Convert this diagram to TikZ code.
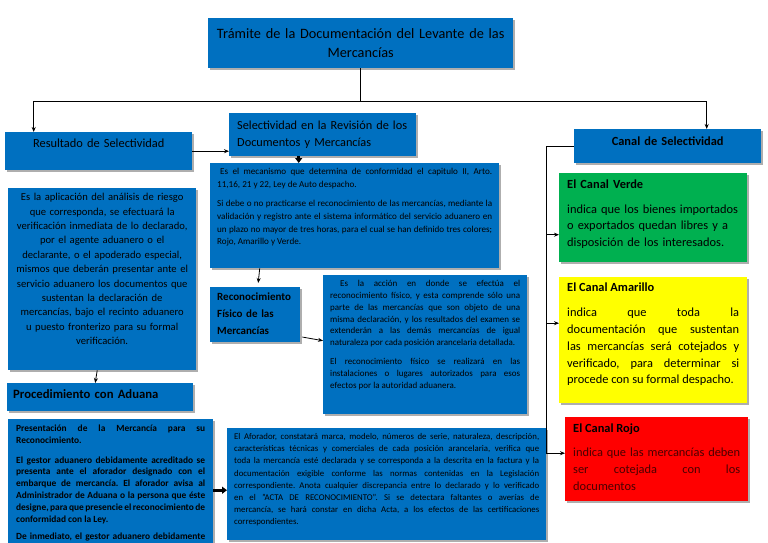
\documentclass[tikz,border=0pt]{standalone}
\usepackage{fontspec}
\setmainfont{Carlito}
\usepackage{xcolor}
\definecolor{azulcaja}{HTML}{0070C0}
\definecolor{canalverde}{HTML}{00B050}
\definecolor{canalamarillo}{HTML}{FFFF00}
\definecolor{canalrojo}{HTML}{FF0000}
\definecolor{textorojo}{HTML}{4A0000}
\usepackage{tikz}
\usetikzlibrary{arrows.meta, shadows}
\hyphenpenalty=10000
\exhyphenpenalty=10000
\tolerance=9999
\emergencystretch=20pt
\frenchspacing

\begin{document}
\begin{tikzpicture}[
  x=1pt, y=-1pt,
  caja/.style={
    fill=azulcaja, anchor=north west, inner ysep=0pt,
    drop shadow={shadow xshift=1.5pt, shadow yshift=-2pt, opacity=0.45, fill=black!70}
  },
  detalle/.style={caja, align=justify},
  linea/.style={line width=0.8pt, black},
  flecha/.style={-{Stealth[length=5pt, width=4pt]}, line width=0.8pt, black},
  flechagruesa/.style={-{Triangle[length=5pt, width=7pt]}, line width=2.6pt, black}
]

\useasboundingbox (0,0) rectangle (768,543);
\clip (0,0) rectangle (768,543);

% ---- Título ----
\node[caja, text width=293pt, inner xsep=6pt, minimum height=50pt, align=center,
  font=\fontsize{14.3}{19}\selectfont] (titulo) at (208,18)
  {Trámite de la Documentación del Levante de las\\ Mercancías};

% ---- Columna izquierda ----
\node[caja, text width=175pt, inner xsep=6pt, text height=15pt, text depth=23pt,
  align=center, font=\fontsize{12.4}{14}\selectfont] (resultado) at (5,132)
  {Resultado de Selectividad};

\node[caja, text width=178pt, inner xsep=5pt, text height=12.5pt, text depth=169.5pt,
  align=center, font=\fontsize{10.6}{14.4}\selectfont] (resdesc) at (8,188) {
  Es la aplicación del análisis de riesgo\\
  que corresponda, se efectuará la\\
  verificación inmediata de lo declarado,\\
  por el agente aduanero o el\\
  declarante, o el apoderado especial,\\
  mismos que deberán presentar ante el\\
  servicio aduanero los documentos que\\
  sustentan la declaración de\\
  mercancías, bajo el recinto aduanero\\
  u puesto fronterizo para su formal\\
  verificación.
};

\node[caja, text width=174pt, inner xsep=6pt, text height=15.5pt, text depth=12.5pt,
  align=left, font=\bfseries\fontsize{12.7}{14}\selectfont] (procedimiento) at (7,383)
  {Procedimiento con Aduana};

\node[detalle, text width=189pt, inner xsep=8pt, text height=12pt, text depth=130pt,
  font=\bfseries\fontsize{9.4}{11.9}\selectfont] (presentacion) at (8,419) {
  Presentación de la Mercancía para su\linebreak
  Reconocimiento.\\[8pt]
  El gestor aduanero debidamente acreditado se\linebreak
  presenta ante el aforador designado con el\linebreak
  embarque de mercancía. El aforador avisa al\linebreak
  Administrador de Aduana o la persona que éste\linebreak
  designe, para que presencie el reconocimiento de\linebreak
  conformidad con la Ley.\\[5.5pt]
  De inmediato, el gestor aduanero debidamente\linebreak\mbox{}
};

% ---- Columna central ----
\node[caja, text width=171pt, inner xsep=8pt, text height=16pt, text depth=27pt,
  align=left, font=\fontsize{12.3}{17}\selectfont] (selrev) at (229,113)
  {Selectividad en la Revisión de los\\ Documentos y Mercancías};

\node[detalle, text width=275pt, inner xsep=7pt, text height=11.5pt, text depth=93.5pt,
  font=\fontsize{9.1}{12.7}\selectfont] (mecanismo) at (210,163) {
  \hspace*{3pt}Es el mecanismo que determina de conformidad el capitulo II, Arto.\linebreak
  11,16, 21 y 22, Ley de Auto despacho.\\[6.5pt]
  Si debe o no practicarse el reconocimiento de las mercancías, mediante la\linebreak
  validación y registro ante el sistema informático del servicio aduanero en\linebreak
  un plazo no mayor de tres horas, para el cual se han definido tres colores;\linebreak
  Rojo, Amarillo y Verde.
};

\node[caja, text width=76pt, inner xsep=7pt, text height=13.5pt, text depth=41.5pt,
  align=left, font=\bfseries\fontsize{11}{17}\selectfont] (reconocimiento) at (210,287)
  {Reconocimiento\\ Físico de las\\ Mercancías};

\node[detalle, text width=190pt, inner xsep=7pt, text height=11.5pt, text depth=127.5pt,
  font=\fontsize{9}{11.8}\selectfont] (accion) at (323,275) {
  \hspace*{10pt}Es la acción en donde se efectúa el\linebreak
  reconocimiento físico, y esta comprende sólo una\linebreak
  parte de las mercancías que son objeto de una\linebreak
  misma declaración, y los resultados del examen se\linebreak
  extenderán a las demás mercancías de igual\linebreak
  naturaleza por cada posición arancelaria detallada.\\[7pt]
  El reconocimiento físico se realizará en las\linebreak
  instalaciones o lugares autorizados para esos\linebreak
  efectos por la autoridad aduanera.
};

\node[detalle, text width=305pt, inner xsep=7pt, text height=11.5pt, text depth=100.5pt,
  font=\fontsize{8.8}{12.1}\selectfont] (aforador) at (227,428) {
  El Aforador, constatará marca, modelo, números de serie, naturaleza, descripción,\linebreak
  características técnicas y comerciales de cada posición arancelaria, verifica que\linebreak
  toda la mercancía esté declarada y se corresponda a la descrita en la factura y la\linebreak
  documentación exigible conforme las normas contenidas en la Legislación\linebreak
  correspondiente. Anota cualquier discrepancia entre lo declarado y lo verificado\linebreak
  en el "ACTA DE RECONOCIMIENTO". Si se detectara faltantes o averías de\linebreak
  mercancía, se hará constar en dicha Acta, a los efectos de las certificaciones\linebreak
  correspondientes.
};

% ---- Columna derecha (canales) ----
\node[caja, text width=175pt, inner xsep=6pt, text height=16pt, text depth=18pt,
  align=center, font=\bfseries\fontsize{12.4}{14}\selectfont] (canal) at (574,129)
  {Canal de Selectividad};

\node[caja, fill=canalverde, text width=172pt, inner xsep=8pt, text height=15pt, text depth=74pt,
  align=left, font=\fontsize{12.4}{16.5}\selectfont] (verde) at (559,173) {
  \textbf{El Canal Verde}\\[8.5pt]
  indica que los bienes importados\\
  o exportados quedan libres y a\\
  disposición de los interesados.
};

\node[caja, fill=canalamarillo, text width=172pt, inner xsep=8pt, text height=14pt, text depth=112pt,
  align=justify, font=\fontsize{12.4}{16.7}\selectfont] (amarillo) at (559,277) {
  \textbf{El Canal Amarillo}\\[9pt]
  indica que toda la\linebreak
  documentación que sustentan\linebreak
  las mercancías será cotejados y\linebreak
  verificado, para determinar si\linebreak
  procede con su formal despacho.
};

\node[caja, fill=canalrojo, text width=167pt, inner xsep=8pt, text height=15pt, text depth=69pt,
  align=justify, font=\fontsize{12.4}{17}\selectfont] (rojo) at (565,417) {
  \textbf{El Canal Rojo}\\[7pt]
  \color{textorojo}indica que las mercancías deben\linebreak
  ser cotejada con los\linebreak
  documentos
};

% Conectores
\coordinate (rama) at ([yshift=-33pt]titulo.south);
\draw[linea] (titulo.south) -- (rama);
\draw[flecha] (rama) -| ([xshift=-65pt]resultado.north);
\draw[flecha] (rama) -| ([xshift=39pt]canal.north);

\draw[flecha] (resultado.east) -- (resultado.east -| selrev.west);
\draw[flechagruesa] ([xshift=-24pt]selrev.south) -- ([xshift=-24pt]selrev.south |- mecanismo.north);
\draw[flecha] ([xshift=-95pt]mecanismo.south) -- ([xshift=3pt, yshift=4pt]reconocimiento.north);
\draw[flecha, shorten <=2pt] ([yshift=-22pt]reconocimiento.east) -- ([yshift=4pt]accion.west);
\draw[flecha] ([xshift=-5pt]resdesc.south) -- ([xshift=-5pt]procedimiento.north);
\draw[flechagruesa] ([yshift=-6pt]aforador.west -| presentacion.east) -- ([yshift=-6pt]aforador.west);

% Ramal hacia los canales
\coordinate (bus) at ([xshift=-28pt]canal.west);
\draw[flecha] (canal.west) -- (bus) |- ([yshift=6pt]rojo.west);
\draw[flecha] ([yshift=-17pt]verde.west -| bus) -- ([yshift=-17pt]verde.west);
\draw[flecha] ([yshift=17pt]amarillo.west -| bus) -- ([yshift=17pt]amarillo.west);

\end{tikzpicture}
\end{document}
